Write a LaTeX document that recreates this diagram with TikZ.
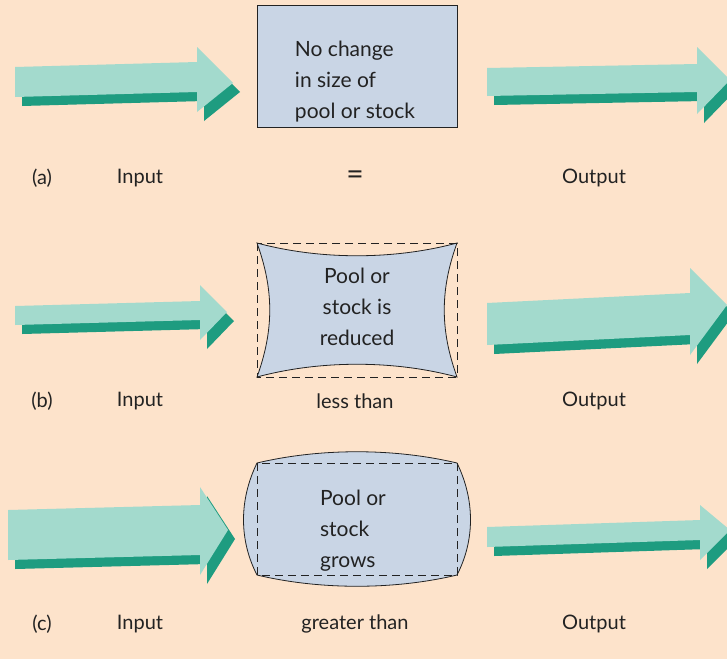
\documentclass[tikz,border=0pt]{standalone}
\usepackage{fontspec}
\setmainfont{Lato}
\definecolor{bg}{HTML}{FDE3CB}
\definecolor{light}{HTML}{A3DACD}
\definecolor{dark}{HTML}{1E9C80}
\definecolor{boxc}{HTML}{C9D5E5}
\definecolor{ink}{HTML}{222222}
\newcommand{\arrshape}[9]{(#1,#2) -- (#3,#4) -- (#3,#5) -- (#6,#7) -- (#3,#8) -- (#3,#9) -- (#1,#2+#9-#4) -- cycle}
\newcommand{\bigarr}[9]{%
  \fill[dark] [shift={(7,9)}] \arrshape{#1}{#2}{#3}{#4}{#5}{#6}{#7}{#8}{#9};
  \fill[light] \arrshape{#1}{#2}{#3}{#4}{#5}{#6}{#7}{#8}{#9};}
\begin{document}
\begin{tikzpicture}[x=1pt,y=-1pt,
  lbl/.style={font=\fontsize{20}{22}\selectfont, text=ink, inner sep=0pt},
  boxtext/.style={font=\fontsize{21}{31}\selectfont, text=ink, align=left, inner sep=0pt},
  dsh/.style={ink,dash pattern=on 8pt off 5pt,line width=1pt}]
\fill[bg] (0,0) rectangle (727,659);
\useasboundingbox (0,0) rectangle (727,659);
% (a)
\bigarr{15}{67}{197}{62}{47}{233}{83}{112}{92}
\bigarr{487}{68}{697}{64}{47}{730}{80}{114}{92}
\node[draw=ink, fill=boxc, line width=0.8pt, minimum width=200pt, minimum height=122pt, anchor=north west] (boxa) at (257,5) {};
\node[boxtext] (ta) at (355,82) {No change\\in size of\\pool or stock};
% (b)
\bigarr{15}{306}{200}{301}{285}{227}{312}{340}{320}
\bigarr{487}{303}{690}{293}{268}{727}{305}{355}{335}
\fill[boxc,draw=ink,line width=0.8pt] (257,243) .. controls (320,260) and (394,260) .. (457,243)
  .. controls (440,290) and (440,330) .. (457,377)
  .. controls (394,360) and (320,360) .. (257,377)
  .. controls (274,330) and (274,290) .. (257,243) -- cycle;
\draw[dsh] (257,243) rectangle (457,377);
\node[boxtext,align=center] (tb) at (357,307) {Pool or\\stock is\\reduced};
% (c)
\bigarr{8}{510}{200}{505}{487}{228}{530}{575}{555}
\bigarr{487}{527}{700}{520}{505}{730}{530}{560}{540}
\fill[boxc,draw=ink,line width=0.8pt] (257,463) .. controls (320,448) and (394,448) .. (457,463)
  .. controls (475,500) and (475,540) .. (457,575)
  .. controls (394,590) and (320,590) .. (257,575)
  .. controls (239,540) and (239,500) .. (257,463) -- cycle;
\draw[dsh] (257,463) rectangle (457,575);
\node[boxtext] (tc) at (353,531) {Pool or\\stock\\grows};
% labels
\node[lbl] (la) at (42,178) {(a)};
\node[lbl] (ia) at (140,178) {Input};
\node[lbl,font=\fontsize{30}{30}\selectfont] (ea) at (355,178) {=};
\node[lbl] (oa) at (594,178) {Output};
\node[lbl] (lb) at (42,401) {(b)};
\node[lbl] (ib) at (140,401) {Input};
\node[lbl] (eb) at (355,401) {less than};
\node[lbl] (ob) at (594,401) {Output};
\node[lbl] (lc) at (42,624) {(c)};
\node[lbl] (ic) at (140,624) {Input};
\node[lbl] (ec) at (355,624) {greater than};
\node[lbl] (oc) at (594,624) {Output};
\end{tikzpicture}
\end{document}
